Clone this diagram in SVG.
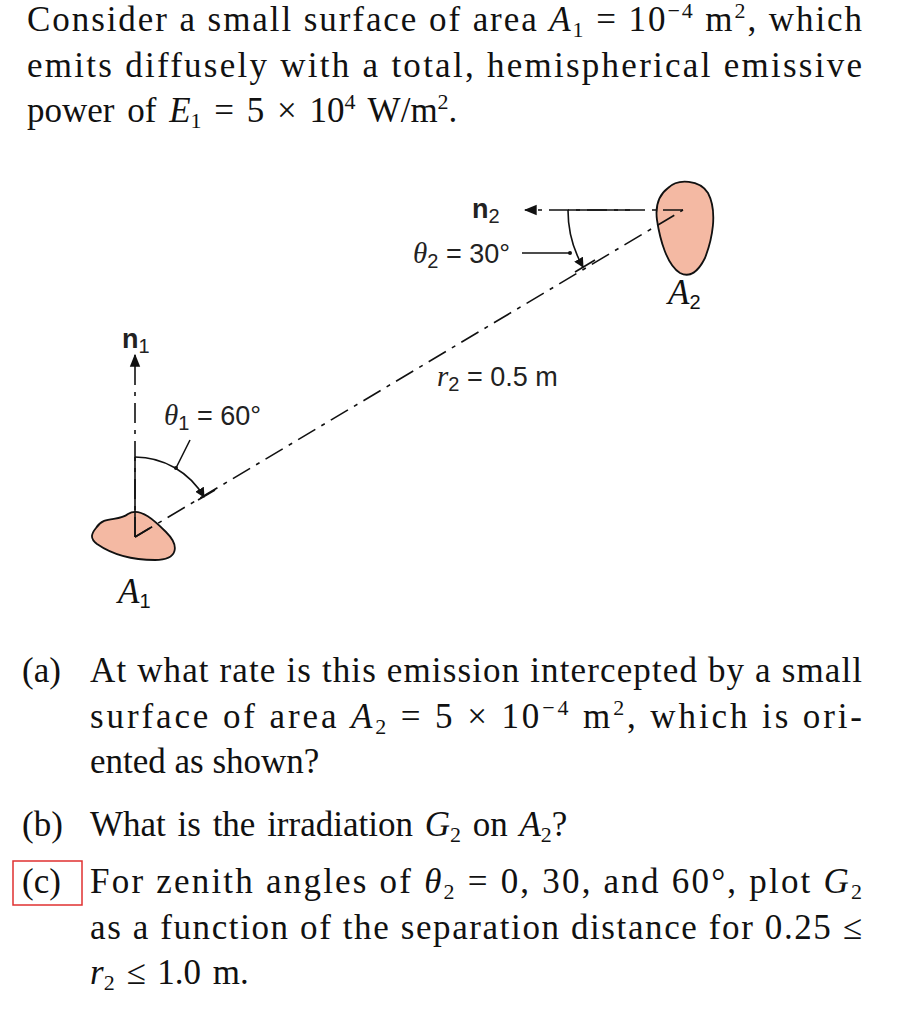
<svg xmlns="http://www.w3.org/2000/svg" width="898" height="1024" viewBox="0 0 898 1024">
<style>
.t{font-family:"Liberation Serif",serif;font-size:35px;fill:#111}
.s{font-family:"Liberation Sans",Arial,sans-serif;font-size:27px;fill:#222}
.i{font-style:italic}
.b{font-weight:bold}
.ln{stroke:#111;stroke-width:1.6;fill:none}
.ds{stroke:#111;stroke-width:1.6;fill:none;stroke-dasharray:20 7 4 7}
.blob{fill:#f4b9a3;stroke:#111;stroke-width:1.8}
</style>
<defs>
<marker id="ar" viewBox="0 0 10 10" refX="9" refY="5" markerWidth="10" markerHeight="10" markerUnits="userSpaceOnUse" orient="auto"><path d="M0,0L10,5L0,10z" fill="#111"/></marker>
<marker id="ab" viewBox="0 0 10 10" refX="9" refY="5" markerWidth="13" markerHeight="13" markerUnits="userSpaceOnUse" orient="auto"><path d="M0,1L10,5L0,9z" fill="#111"/></marker>
</defs>
<g id="intro">
<text class="t" x="27" y="31" textLength="835" lengthAdjust="spacing">Consider a small surface of area <tspan class="i">A</tspan><tspan font-size="22" dy="6">1</tspan><tspan dy="-6"> = 10</tspan><tspan font-size="22" dy="-13">−4</tspan><tspan dy="13"> m</tspan><tspan font-size="22" dy="-13">2</tspan><tspan dy="13">, which</tspan></text>
<text class="t" x="27" y="77" textLength="835" lengthAdjust="spacing">emits diffusely with a total, hemispherical emissive</text>
<text class="t" x="27" y="122" word-spacing="4">power of <tspan class="i">E</tspan><tspan font-size="22" dy="6">1</tspan><tspan dy="-6"> = 5 × 10</tspan><tspan font-size="22" dy="-13">4</tspan><tspan dy="13"> W/m</tspan><tspan font-size="22" dy="-13">2</tspan><tspan dy="13">.</tspan></text>
</g>
<g id="A1">
<path class="blob" d="M96,528 C104,515 118,522 128,514 C140,506 156,522 166,532 C180,546 178,560 155,560 C130,560 110,553 97,544 C89,538 92,533 96,528z"/>
<text class="t i" x="118" y="603" font-size="30">A<tspan font-size="20" dy="5" font-style="normal" font-family="Liberation Sans,sans-serif">1</tspan></text>
</g>
<g id="A2">
<path class="blob" d="M668,188 C678,178 700,180 708,193 C718,212 712,240 705,258 C698,272 690,278 680,273 C667,265 660,240 657,220 C655,205 660,194 668,188z"/>
<text class="t i" x="668" y="304" font-size="30">A<tspan font-size="20" dy="5" font-style="normal" font-family="Liberation Sans,sans-serif">2</tspan></text>
</g>
<g id="connectors">
<line class="ds" x1="135" y1="537" x2="683" y2="210"/>
<line class="ln" x1="135" y1="537" x2="150" y2="528"/>
<line class="ln" x1="198" y1="500" x2="215" y2="490"/>
<line class="ln" x1="575" y1="272" x2="595" y2="260"/>
<line class="ds" x1="135" y1="537" x2="135" y2="355" marker-end="url(#ab)"/>
<line class="ln" x1="135" y1="457" x2="135" y2="537"/>
<line class="ds" x1="683" y1="210" x2="525" y2="210" marker-end="url(#ab)"/>
<line class="ln" x1="568" y1="210" x2="630" y2="210"/>
<path class="ln" d="M135,457 A80,80 0 0 1 204,497" marker-end="url(#ar)"/>
<path class="ln" d="M568,210 A115,115 0 0 0 583,267" marker-end="url(#ar)"/>
<line class="ln" x1="176" y1="468" x2="190" y2="440"/>
<circle cx="176" cy="468" r="2" fill="#111"/>
<line class="ln" x1="522" y1="253" x2="570" y2="253"/>
<circle cx="570" cy="253" r="2" fill="#111"/>
</g>
<g id="labels">
<text class="s b" x="122" y="348">n<tspan font-size="20" font-weight="normal" dy="5">1</tspan></text>
<text class="s b" x="472" y="218">n<tspan font-size="20" font-weight="normal" dy="5">2</tspan></text>
<text class="s" x="413" y="263"><tspan class="i" font-family="Liberation Serif,serif" font-size="29">θ</tspan><tspan font-size="20" dy="5">2</tspan><tspan dy="-5"> = 30°</tspan></text>
<text class="s" x="164" y="425"><tspan class="i" font-family="Liberation Serif,serif" font-size="29">θ</tspan><tspan font-size="20" dy="5">1</tspan><tspan dy="-5"> = 60°</tspan></text>
<text class="s" x="437" y="386"><tspan class="i" font-family="Liberation Serif,serif" font-size="29">r</tspan><tspan font-size="20" dy="5">2</tspan><tspan dy="-5"> = 0.5 m</tspan></text>
</g>
<g id="questions">
<text class="t" x="22" y="682">(a)</text>
<text class="t" x="90" y="682" textLength="772" lengthAdjust="spacing">At what rate is this emission intercepted by a small</text>
<text class="t" x="90" y="728" textLength="772" lengthAdjust="spacing">surface of area <tspan class="i">A</tspan><tspan font-size="22" dy="6">2</tspan><tspan dy="-6"> = 5 × 10</tspan><tspan font-size="22" dy="-13">−4</tspan><tspan dy="13"> m</tspan><tspan font-size="22" dy="-13">2</tspan><tspan dy="13">, which is ori-</tspan></text>
<text class="t" x="90" y="773">ented as shown?</text>
<text class="t" x="22" y="836">(b)</text>
<text class="t" x="90" y="836" word-spacing="3">What is the irradiation <tspan class="i">G</tspan><tspan font-size="22" dy="6">2</tspan><tspan dy="-6"> on </tspan><tspan class="i">A</tspan><tspan font-size="22" dy="6">2</tspan><tspan dy="-6">?</tspan></text>
<rect x="13" y="861" width="69" height="44" fill="none" stroke="#e03030" stroke-width="1.5"/>
<text class="t" x="22" y="893">(c)</text>
<text class="t" x="90" y="893" textLength="772" lengthAdjust="spacing">For zenith angles of <tspan class="i">θ</tspan><tspan font-size="22" dy="6">2</tspan><tspan dy="-6"> = 0, 30, and 60°, plot </tspan><tspan class="i">G</tspan><tspan font-size="22" dy="6">2</tspan></text>
<text class="t" x="90" y="939" textLength="772" lengthAdjust="spacing">as a function of the separation distance for 0.25 ≤</text>
<text class="t" x="90" y="984" word-spacing="3"><tspan class="i">r</tspan><tspan font-size="22" dy="6">2</tspan><tspan dy="-6"> ≤ 1.0 m.</tspan></text>
</g>
</svg>
